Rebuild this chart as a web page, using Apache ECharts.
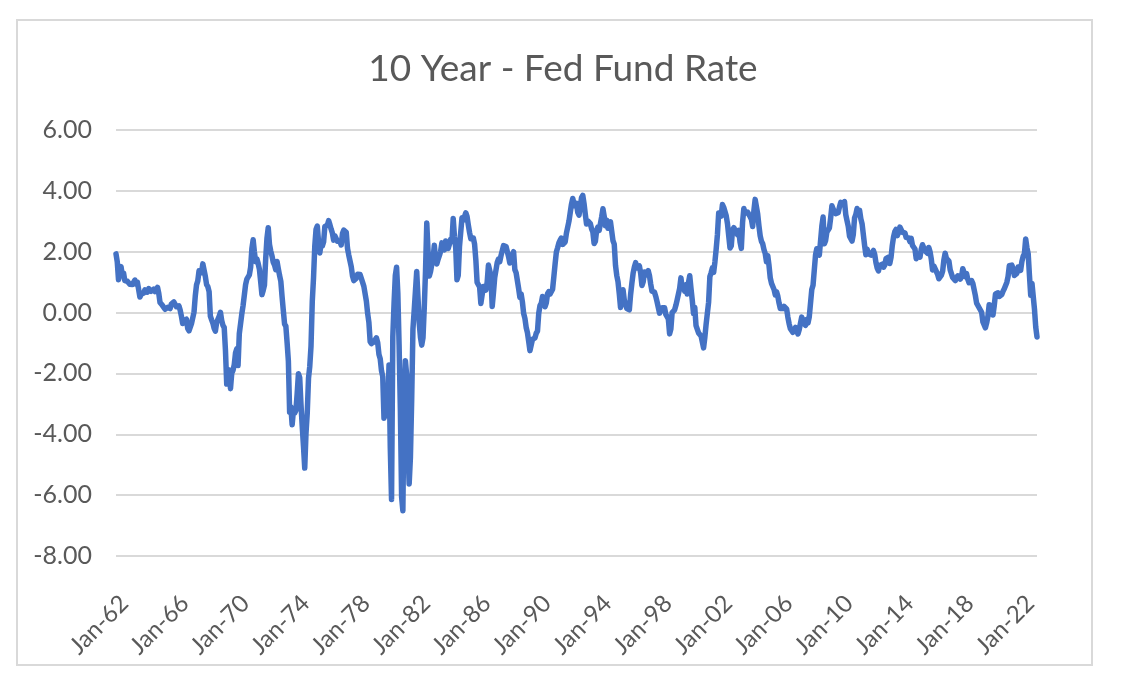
<!DOCTYPE html>
<html>
<head>
<meta charset="utf-8">
<script src="https://cdn.jsdelivr.net/npm/echarts@6/dist/echarts.min.js"></script>
<style>
  html, body { margin: 0; padding: 0; background: #fff; }
  #chart { width: 1122px; height: 700px; }
</style>
</head>
<body>
<div id="chart"></div>
<script>
// monthly 10 year yield minus fed funds rate, Jan 1962 .. Jan 2023
const startYear = 1962
const monthNames = ['Jan', 'Feb', 'Mar', 'Apr', 'May', 'Jun', 'Jul', 'Aug', 'Sep', 'Oct', 'Nov', 'Dec']

const spread = [
  1.93, 1.67, 1.08, 1.06, 1.51, 1.23, 1.30, 1.05, 1.08, 1.03, 0.98, 0.93,
  0.91, 0.92, 0.95, 1.07, 0.93, 1.00, 1.00, 0.51, 0.60, 0.61, 0.64, 0.75,
  0.69, 0.67, 0.79, 0.76, 0.70, 0.67, 0.77, 0.69, 0.75, 0.83, 0.63, 0.33,
  0.29, 0.23, 0.17, 0.11, 0.11, 0.17, 0.11, 0.13, 0.28, 0.27, 0.35, 0.30,
  0.19, 0.23, 0.22, 0.08, -0.12, -0.36, -0.28, -0.31, -0.22, -0.52, -0.60, -0.56,
  -0.36, -0.37, 0.01, 0.54, 0.91, 1.04, 1.37, 1.38, 1.31, 1.60, 1.62, 1.19,
  0.92, 0.85, 0.69, -0.12, -0.24, -0.35, -0.52, -0.61, -0.32, -0.33, -0.12, 0.01,
  -0.26, -0.42, -0.49, -1.24, -2.35, -2.33, -1.89, -2.50, -1.99, -1.90, -1.71, -1.32,
  -1.19, -1.74, -0.69, -0.71, -0.04, 0.23, 0.25, 0.92, 1.10, 1.13, 1.24, 1.49,
  2.10, 2.39, 1.99, 1.67, 1.76, 1.61, 1.42, 1.01, 0.59, 0.73, 0.90, 1.79,
  2.45, 2.79, 2.24, 2.02, 1.86, 1.65, 1.56, 1.41, 1.68, 1.44, 1.22, 1.03,
  0.52, 0.06, -0.38, -0.45, -0.99, -1.59, -3.27, -3.10, -3.69, -3.22, -3.30, -3.21,
  -2.66, -2.01, -2.14, -3.00, -3.73, -4.39, -5.11, -3.97, -3.30, -2.16, -1.77, -1.10,
  0.37, 1.15, 2.19, 2.74, 2.84, 2.31, 1.96, 2.26, 2.19, 2.32, 2.83, 2.80,
  2.87, 3.02, 2.89, 2.74, 2.61, 2.38, 2.52, 2.48, 2.34, 2.39, 2.34, 2.22,
  2.60, 2.71, 2.77, 2.64, 2.11, 1.89, 1.91, 1.50, 1.20, 1.05, 1.07, 1.13,
  1.26, 1.25, 1.25, 1.26, 0.99, 0.86, 0.83, 0.37, -0.03, -0.32, -0.95, -1.02,
  -0.97, -0.96, -0.97, -0.83, -0.99, -1.38, -1.52, -1.91, -2.10, -3.47, -2.53, -3.39,
  -3.02, -1.72, -4.44, -6.14, -0.80, 0.31, 1.22, 1.49, 0.64, -1.06, -3.17, -6.06,
  -6.51, -2.74, -1.58, -2.04, -4.42, -5.63, -4.76, -2.88, -0.55, 0.07, 0.08, 1.35,
  1.37, -0.35, -0.82, -1.07, -0.83, 0.15, 1.36, 2.94, 2.03, 1.20, 1.35, 1.59,
  1.78, 2.21, 1.74, 1.60, 1.75, 1.87, 2.01, 2.29, 2.20, 2.06, 2.35, 2.36,
  2.11, 2.25, 2.41, 2.34, 3.09, 2.50, 2.13, 1.08, 1.22, 2.17, 2.14, 3.12,
  3.03, 3.01, 3.28, 3.16, 2.88, 2.63, 2.43, 2.43, 2.45, 2.25, 1.73, 0.99,
  1.05, 0.84, 0.30, 0.31, 0.86, 0.88, 0.74, 1.00, 1.56, 1.58, 1.21, 0.20,
  0.65, 1.15, 1.12, 1.65, 1.76, 1.67, 1.87, 2.03, 2.20, 2.23, 2.17, 2.22,
  1.84, 1.63, 1.79, 1.85, 2.00, 1.41, 1.31, 1.25, 0.79, 0.50, 0.61, 0.35,
  -0.03, -0.19, -0.49, -0.66, -0.95, -1.25, -1.22, -0.88, -0.83, -0.83, -0.68, -0.61,
  -0.02, 0.23, 0.31, 0.53, 0.58, 0.19, 0.32, 0.62, 0.69, 0.61, 0.58, 0.77,
  1.18, 1.60, 1.99, 2.13, 2.29, 2.38, 2.45, 2.24, 2.20, 2.32, 2.61, 2.66,
  3.00, 3.28, 3.56, 3.75, 3.57, 3.50, 3.59, 3.29, 3.20, 3.49, 3.78, 3.85,
  3.58, 3.23, 2.91, 3.01, 3.04, 2.92, 2.75, 2.65, 2.27, 2.34, 2.70, 2.81,
  2.70, 2.72, 3.14, 3.41, 3.17, 2.85, 3.04, 2.77, 2.73, 2.98, 2.67, 2.36,
  2.25, 1.55, 1.22, 1.01, 0.62, 0.17, 0.43, 0.75, 0.40, 0.28, 0.13, 0.11,
  0.09, 0.59, 0.96, 1.29, 1.50, 1.64, 1.47, 1.42, 1.53, 1.29, 0.89, 1.01,
  1.33, 1.23, 1.30, 1.38, 1.21, 0.93, 0.70, 0.76, 0.67, 0.53, 0.36, 0.31,
  -0.02, 0.06, 0.16, 0.19, 0.16, -0.06, -0.08, -0.21, -0.70, -0.54, 0.00, -0.03,
  0.09, 0.24, 0.42, 0.44, 0.80, 1.14, 0.80, 0.87, 0.70, 0.91, 0.61, 0.98,
  1.21, 0.79, 0.41, -0.03, 0.17, -0.43, -0.49, -0.67, -0.72, -0.77, -0.79, -1.16,
  -0.82, -0.39, -0.42, 0.34, 1.18, 1.31, 1.47, 1.32, 1.66, 2.08, 2.56, 3.27,
  3.31, 3.17, 3.55, 3.46, 3.41, 3.18, 2.92, 2.52, 2.12, 2.19, 2.71, 2.79,
  2.81, 2.64, 2.56, 2.70, 2.31, 2.11, 2.97, 3.42, 3.26, 3.28, 3.30, 3.29,
  3.15, 3.07, 2.83, 3.35, 3.72, 3.70, 3.24, 2.85, 2.52, 2.34, 2.26, 2.07,
  1.94, 1.67, 1.87, 1.55, 1.14, 0.96, 0.92, 0.76, 0.58, 0.68, 0.54, 0.31,
  0.13, 0.08, 0.13, 0.20, 0.17, 0.12, -0.15, -0.37, -0.53, -0.52, -0.65, -0.68,
  -0.49, -0.54, -0.70, -0.56, -0.50, -0.15, -0.26, -0.35, -0.42, -0.23, -0.34, -0.14,
  -0.20, 0.76, 0.90, 1.40, 1.90, 2.10, 2.00, 1.89, 1.88, 2.84, 3.14, 2.26,
  2.37, 2.65, 2.64, 2.78, 3.11, 3.51, 3.40, 3.43, 3.25, 3.27, 3.28, 3.47,
  3.62, 3.56, 3.57, 3.65, 3.22, 3.02, 2.83, 2.51, 2.46, 2.35, 2.57, 3.11,
  3.22, 3.42, 3.27, 3.36, 3.08, 2.91, 2.93, 2.20, 1.90, 2.08, 1.93, 1.91,
  1.89, 1.87, 2.04, 1.91, 1.64, 1.46, 1.37, 1.55, 1.58, 1.59, 1.49, 1.56,
  1.77, 1.83, 1.82, 1.61, 1.82, 2.21, 2.49, 2.66, 2.73, 2.53, 2.64, 2.81,
  2.79, 2.64, 2.64, 2.62, 2.47, 2.50, 2.45, 2.33, 2.44, 2.21, 2.24, 2.09,
  1.77, 1.87, 1.93, 1.82, 2.08, 2.23, 2.19, 2.03, 2.03, 1.95, 2.14, 2.00,
  1.75, 1.40, 1.53, 1.44, 1.44, 1.26, 1.11, 1.16, 1.23, 1.36, 1.73, 1.95,
  1.78, 1.76, 1.69, 1.40, 1.39, 1.15, 1.17, 1.05, 1.05, 1.21, 1.19, 1.10,
  1.17, 1.44, 1.33, 1.18, 1.28, 1.09, 0.98, 0.98, 1.05, 0.96, 0.92, 0.56,
  0.31, 0.28, 0.16, 0.11, 0.01, -0.31, -0.34, -0.50, -0.34, -0.12, 0.26, 0.31,
  0.21, -0.08, 0.22, 0.61, 0.62, 0.65, 0.53, 0.55, 0.59, 0.70, 0.78, 0.84,
  0.99, 1.18, 1.54, 1.57, 1.56, 1.44, 1.22, 1.19, 1.29, 1.50, 1.48, 1.39,
  1.68, 1.85, 1.93, 2.42, 2.13, 1.93, 1.22, 0.57, 0.96, 0.90, 0.11, -0.48,
  -0.80
]

// month labels like "Jan-62"
const months = spread.map((_, i) => {
  const y = startYear + Math.floor(i / 12)
  return monthNames[i % 12] + '-' + String(y % 100).padStart(2, '0')
})

const yTicks = { min: -8, max: 6, step: 2 }

const textColor = '#595959'
const fontFamily = 'Lato, "Open Sans", sans-serif'

const chart = echarts.init(document.getElementById('chart'), null, { renderer: 'canvas' })

chart.setOption({
  backgroundColor: '#fff',
  animation: false,
  title: {
    text: '10 Year - Fed Fund Rate',
    left: 558,
    top: 46,
    textAlign: 'center',
    textStyle: {
      color: textColor,
      fontFamily: fontFamily,
      fontSize: 37,
      fontWeight: 'normal',
    },
  },
  graphic: [
    {
      type: 'rect',
      silent: true,
      z: -1,
      shape: { x: 17, y: 20, width: 1075, height: 645 },
      style: { fill: 'none', stroke: '#d9d9d9', lineWidth: 2 },
    },
  ],
  grid: {
    left: 116,
    right: 85,
    top: 130,
    bottom: 144,
    containLabel: false,
  },
  xAxis: {
    type: 'category',
    data: months,
    boundaryGap: false,
    axisLine: { show: false },
    axisTick: { show: false },
    splitLine: { show: false },
    axisLabel: {
      interval: 47,
      rotate: 45,
      align: 'right',
      verticalAlign: 'top',
      margin: 35,
      color: textColor,
      fontFamily: fontFamily,
      fontSize: 24,
    },
  },
  yAxis: {
    type: 'value',
    min: yTicks.min,
    max: yTicks.max,
    interval: yTicks.step,
    axisLine: { show: false },
    axisTick: { show: false },
    axisLabel: {
      margin: 24,
      color: textColor,
      fontFamily: fontFamily,
      fontSize: 25,
      formatter: (v) => v.toFixed(2),
    },
    splitLine: {
      lineStyle: { color: '#d9d9d9', width: 2 },
    },
  },
  series: [
    {
      name: '10 Year - Fed Fund Rate',
      type: 'line',
      data: spread,
      showSymbol: false,
      smooth: false,
      lineStyle: { color: '#4472c4', width: 5.5, join: 'round', cap: 'round' },
      itemStyle: { color: '#4472c4' },
    },
  ],
})
</script>
</body>
</html>
